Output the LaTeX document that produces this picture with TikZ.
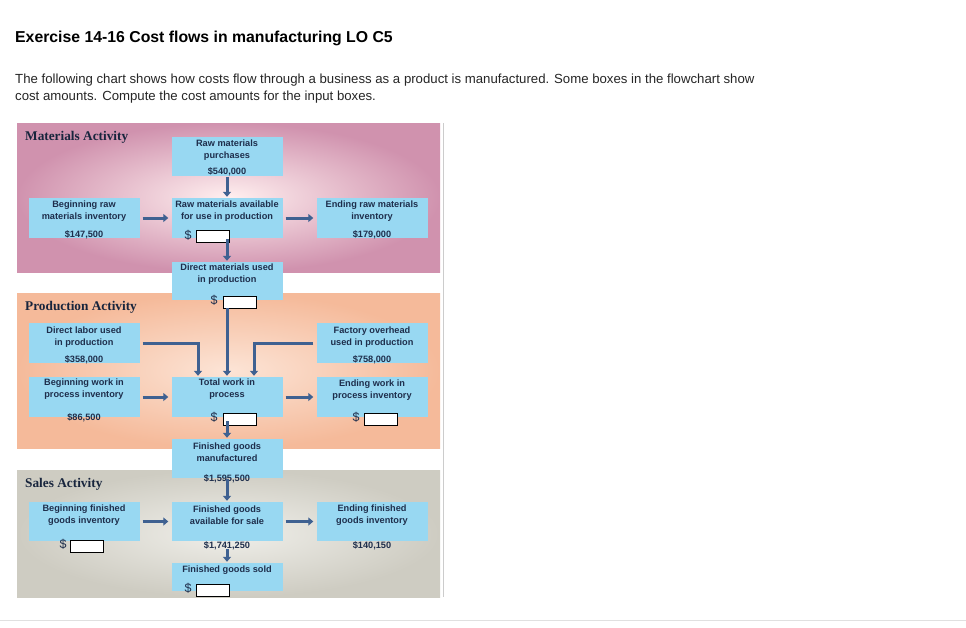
\documentclass[tikz,border=0pt]{standalone}
\usepackage{fontspec}
\setmainfont{Liberation Sans}
\newfontfamily\headserif{Liberation Serif}
\usetikzlibrary{arrows.meta,calc}
\definecolor{boxblue}{HTML}{98D8F2}
\definecolor{navy}{HTML}{1E2E4C}
\definecolor{arr}{HTML}{3F6191}
\begin{document}
\begin{tikzpicture}[x=1pt,y=-1pt,
  box/.style={fill=boxblue,draw=none,inner sep=0pt,minimum width=111pt},
  lbl/.style={font=\fontsize{9.2}{11.5}\selectfont\bfseries,text=navy,align=center,inner sep=0pt},
  inp/.style={draw=black,fill=white,line width=0.8pt,minimum width=33pt,minimum height=12pt,inner sep=0pt},
  dol/.style={font=\fontsize{12.5}{12.5}\selectfont,text=navy,inner sep=0pt},
  flow/.style={draw=arr,line width=3pt,-{Triangle[length=5pt,width=8pt]}},
  head/.style={font=\headserif\bfseries\fontsize{13.3}{13.3}\selectfont,text=navy!80!black,anchor=west,inner sep=0pt}]
\useasboundingbox (0,0) rectangle (966,627);
\fill[white] (0,0) rectangle (966,627);
\node[anchor=west,inner sep=0pt,font=\bfseries\fontsize{15.8}{15.8}\selectfont] (title) at (15,38) {Exercise 14-16 Cost flows in manufacturing LO C5};
\node[anchor=north west,inner sep=0pt,align=left,font=\fontsize{13.2}{17}\selectfont,text=black!85] (para) at (15,74) {The following chart shows how costs flow through a business as a product is manufactured. Some boxes in the flowchart show\\cost amounts. Compute the cost amounts for the input boxes.};
% bands
\shade[inner color=pink!25!white,outer color={rgb,255:red,208;green,146;blue,174}] (17,123) rectangle (440,272);
\shade[inner color={rgb,255:red,252;green,228;blue,214},outer color={rgb,255:red,245;green,186;blue,154}] (17,293) rectangle (440,448);
\shade[inner color={rgb,255:red,240;green,239;blue,234},outer color={rgb,255:red,206;green,204;blue,194}] (17,470) rectangle (440,597);
\draw[black!20,line width=0.6pt] (443,123) -- (443,597);
\draw[black!12,line width=0.6pt] (0,620) -- (966,620);
\node[head] (h1) at (25,137) {Materials Activity};
\node[head] (h2) at (25,307) {Production Activity};
\node[head] (h3) at (25,484) {Sales Activity};
% boxes
\node[box,minimum height=39pt] (rmp) at (227,156.5) {};
\node[box,minimum height=40pt] (brm) at (84,218) {};
\node[box,minimum height=40pt] (rma) at (227,218) {};
\node[box,minimum height=40pt] (erm) at (372,218) {};
\node[box,minimum height=38pt] (dmu) at (227,281) {};
\node[box,minimum height=40pt] (dl) at (84,343) {};
\node[box,minimum height=40pt] (foh) at (372,343) {};
\node[box,minimum height=40pt] (bwip) at (84,397) {};
\node[box,minimum height=40pt] (twip) at (227,397) {};
\node[box,minimum height=40pt] (ewip) at (372,397) {};
\node[box,minimum height=39pt] (fgm) at (227,458.5) {};
\node[box,minimum height=39pt] (bfg) at (84,521.5) {};
\node[box,minimum height=39pt] (fga) at (227,521.5) {};
\node[box,minimum height=39pt] (efg) at (372,521.5) {};
\node[box,minimum height=28pt] (fgs) at (227,577) {};
% labels
\node[lbl] (t1) at (227,150) {Raw materials\\purchases};
\node[lbl] (a1) at (227,172) {\$540,000};
\node[lbl] (t2) at (84,211) {Beginning raw\\materials inventory};
\node[lbl] (a2) at (84,235) {\$147,500};
\node[lbl] (t3) at (227,211) {Raw materials available\\for use in production};
\node[dol] (d3) at (188,235) {\$}; \node[inp] (i3) at (213,236) {};
\node[lbl] (t4) at (372,211) {Ending raw materials\\inventory};
\node[lbl] (a4) at (372,235) {\$179,000};
\node[lbl] (t5) at (227,274) {Direct materials used\\in production};
\node[dol] (d5) at (214,300) {\$}; \node[inp] (i5) at (240,302) {};
\node[lbl] (t6) at (84,337) {Direct labor used\\in production};
\node[lbl] (a6) at (84,360) {\$358,000};
\node[lbl] (t7) at (372,337) {Factory overhead\\used in production};
\node[lbl] (a7) at (372,360) {\$758,000};
\node[lbl] (t8) at (84,389) {Beginning work in\\process inventory};
\node[lbl] (a8) at (84,418) {\$86,500};
\node[lbl] (t9) at (227,389) {Total work in\\process};
\node[dol] (d9) at (214,417) {\$}; \node[inp] (i9) at (240,419) {};
\node[lbl] (t10) at (372,390) {Ending work in\\process inventory};
\node[dol] (d10) at (356,417) {\$}; \node[inp] (i10) at (381,419) {};
\node[lbl] (t11) at (227,452) {Finished goods\\manufactured};
\node[lbl] (a11) at (227,479) {\$1,595,500};
\node[lbl] (t12) at (84,515) {Beginning finished\\goods inventory};
\node[dol] (d12) at (63,544) {\$}; \node[inp] (i12) at (87,546) {};
\node[lbl] (t13) at (227,515) {Finished goods\\available for sale};
\node[lbl] (a13) at (227,546) {\$1,741,250};
\node[lbl] (t14) at (372,515) {Ending finished\\goods inventory};
\node[lbl] (a14) at (372,546) {\$140,150};
\node[lbl] (t15) at (227,570) {Finished goods sold};
\node[dol] (d15) at (188,588) {\$}; \node[inp] (i15) at (213,590) {};
% connectors
\draw[flow] ($(rmp.south)+(0,1)$) -- ($(rma.north)+(0,-1)$);
\draw[flow] ($(rma.south)+(0,1)$) -- ($(dmu.north)+(0,-1)$);
\draw[flow] ($(brm.east)+(3,0)$) -- ($(rma.west)+(-3,0)$);
\draw[flow] ($(rma.east)+(3,0)$) -- ($(erm.west)+(-3,0)$);
\draw[flow] ($(dmu.south)+(0,8)$) -- ($(twip.north)+(0,-1)$);
\draw[flow] ($(dl.east)+(3,0)$) -| ($(twip.north)+(-29,-1)$);
\draw[flow] ($(foh.west)+(-3,0)$) -| ($(twip.north)+(27,-1)$);
\draw[flow] ($(bwip.east)+(3,0)$) -- ($(twip.west)+(-3,0)$);
\draw[flow] ($(twip.east)+(3,0)$) -- ($(ewip.west)+(-3,0)$);
\draw[flow] ($(twip.south)+(0,4)$) -- ($(fgm.north)+(0,-1)$);
\draw[flow] ($(fgm.south)+(0,1)$) -- ($(fga.north)+(0,-1)$);
\draw[flow] ($(bfg.east)+(3,0)$) -- ($(fga.west)+(-3,0)$);
\draw[flow] ($(fga.east)+(3,0)$) -- ($(efg.west)+(-3,0)$);
\draw[flow] ($(fga.south)+(0,8)$) -- ($(fgs.north)+(0,-1)$);
\end{tikzpicture}
\end{document}
